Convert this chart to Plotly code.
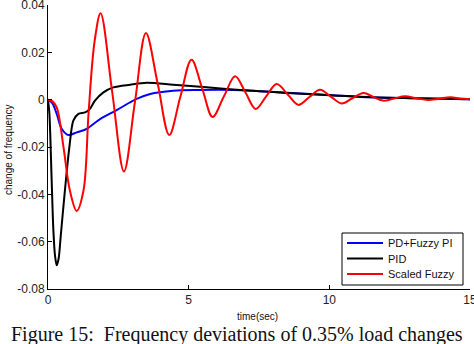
import plotly.graph_objects as go

# PD+Fuzzy PI controller response
t_pdfpi = [0, 0.15, 0.31, 0.49, 0.72, 1.02, 1.37, 1.85, 2.44, 3.15, 3.63, 4.45,
           5.40, 6.58, 7.5, 8.5, 10.0, 11.5, 13.0, 15.0]
df_pdfpi = [0, -0.0015, -0.006, -0.0124, -0.0149, -0.0138, -0.0124, -0.0082,
            -0.0044, 0.0003, 0.0024, 0.0038, 0.0041, 0.0041, 0.0036, 0.0029,
            0.002, 0.001, 0.0006, 0.0002]

# PID controller response
t_pid = [0, 0.05, 0.13, 0.19, 0.25, 0.31, 0.38, 0.45, 0.60, 0.76, 0.90, 1.08,
         1.32, 1.49, 1.67, 1.97, 2.32, 2.92, 3.51, 4.45, 5.64, 6.83, 8.0, 9.0,
         10.0, 11.5, 13.0, 15.0]
df_pid = [0, -0.006, -0.034, -0.055, -0.066, -0.070, -0.067, -0.058, -0.0385,
          -0.020, -0.0089, -0.006, -0.0054, -0.0039, -0.0004, 0.0031, 0.0052,
          0.0063, 0.0071, 0.0063, 0.0052, 0.0041, 0.0032, 0.0025, 0.0019,
          0.001, 0.0006, 0.0002]

# Scaled Fuzzy controller response
t_sf = [0, 0.15, 0.31, 0.55, 0.78, 1.02, 1.26, 1.445, 1.66, 1.87, 2.285, 2.70,
        3.09, 3.48, 3.90, 4.31, 4.70, 5.10, 5.48, 5.85, 6.25, 6.65, 7.02, 7.38,
        7.75, 8.13, 8.52, 8.90, 9.28, 9.67, 10.05, 10.44, 10.82, 11.21, 11.56,
        11.91, 12.3, 12.69, 13.1, 13.5, 13.9, 14.3, 14.65, 15.0]
df_sf = [0, -0.0006, -0.0033, -0.020, -0.0385, -0.047, -0.0385, -0.005, 0.025,
         0.0365, 0.003, -0.0303, -0.001, 0.0282, 0.0067, -0.0149, 0.001, 0.0169,
         0.0048, -0.0073, 0.0013, 0.0099, 0.003, -0.0039, 0.0013, 0.0066,
         0.0022, -0.0022, 0.001, 0.0042, 0.0013, -0.0016, 0.0006, 0.0028,
         0.0012, -0.0004, 0.0005, 0.0014, 0.0006, -0.0001, 0.0004, 0.001,
         0.0005, 0.0002]

series_names = ["PD+Fuzzy PI", "PID", "Scaled Fuzzy"]
series_colors = ["#0000ff", "#000000", "#ff0000"]

x_ticks = [0, 5, 10, 15]
y_ticks = [0.04, 0.02, 0, -0.02, -0.04, -0.06, -0.08]
y_tick_text = ["0.04", "0.02", "0", "-0.02", "-0.04", "-0.06", "-0.08"]

SANS = "Arial, Liberation Sans, sans-serif"
SERIF = "Times New Roman, Liberation Serif, serif"

fig = go.Figure()
for (tx, ty), name, color, smooth in zip(
        [(t_pdfpi, df_pdfpi), (t_pid, df_pid), (t_sf, df_sf)],
        series_names, series_colors, [1.0, 0.8, 1.0]):
    fig.add_trace(go.Scatter(x=tx, y=ty, mode="lines", name=name, showlegend=False,
                             line=dict(color=color, width=2, shape="spline",
                                       smoothing=smooth)))

axis_font = dict(family=SANS, size=12, color="#222")

fig.update_layout(
    width=474, height=344,
    margin=dict(l=48, r=4, t=5, b=55, autoexpand=False),
    paper_bgcolor="white", plot_bgcolor="white",
    showlegend=False,
    xaxis=dict(range=[0, 15], tickvals=x_ticks, ticks="inside", ticklen=4,
               tickcolor="black", showline=True, linecolor="black", linewidth=1,
               showgrid=False, zeroline=False, tickfont=axis_font,
               ticklabeloverflow="allow", automargin=False),
    yaxis=dict(range=[-0.08, 0.04], tickvals=y_ticks, ticktext=y_tick_text,
               ticks="inside", ticklen=4, tickcolor="black", showline=True,
               linecolor="black", linewidth=1, showgrid=False, zeroline=False,
               tickfont=axis_font, ticklabeloverflow="allow", automargin=False),
)

# pixel helpers relative to the plot area
plot_l, plot_r, plot_t, plot_b = 48, 470, 5, 289
def px_x(px):
    return (px - plot_l) / (plot_r - plot_l)
def px_y(py):
    return (plot_b - py) / (plot_b - plot_t)

fig.add_annotation(text="time(sec)", x=px_x(257), y=px_y(316), xref="paper", yref="paper",
                   xanchor="center", yanchor="middle", showarrow=False,
                   font=dict(family=SANS, size=10, color="#111"))
fig.add_annotation(text="change of frequency", x=px_x(8), y=px_y(150), xref="paper",
                   yref="paper", xanchor="center", yanchor="middle", showarrow=False,
                   textangle=-90, font=dict(family=SANS, size=10, color="#111"))
fig.add_annotation(text="Figure 15:  Frequency deviations of 0.35% load changes",
                   x=px_x(237), y=px_y(334), xref="paper", yref="paper",
                   xanchor="center", yanchor="middle", showarrow=False,
                   font=dict(family=SERIF, size=20, color="#111"))

# legend box with sample lines and labels
fig.add_shape(type="rect", xref="paper", yref="paper",
              x0=px_x(342), x1=px_x(463), y0=px_y(285), y1=px_y(233),
              line=dict(color="black", width=1), fillcolor="white", layer="above")
for i, (name, color) in enumerate(zip(series_names, series_colors)):
    yy = px_y(243 + i * 15.5)
    fig.add_shape(type="line", xref="paper", yref="paper",
                  x0=px_x(347), x1=px_x(383), y0=yy, y1=yy,
                  line=dict(color=color, width=2), layer="above")
    fig.add_annotation(text=name, x=px_x(386), y=yy, xref="paper", yref="paper",
                       xanchor="left", yanchor="middle", showarrow=False,
                       font=dict(family=SANS, size=11, color="#111"))

fig.write_html("out.html")
